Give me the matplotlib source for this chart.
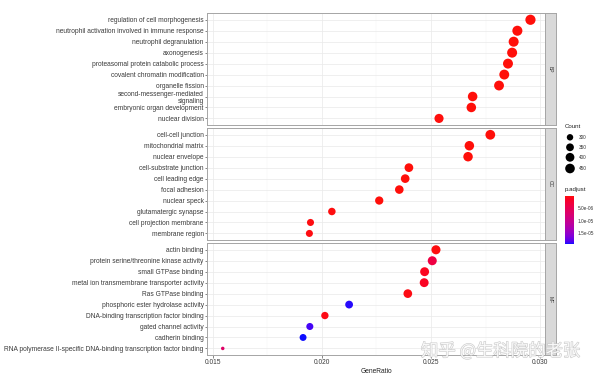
import numpy as np
import matplotlib
matplotlib.use("Agg")
import matplotlib.pyplot as plt
from matplotlib.colors import ListedColormap, Normalize
import matplotlib.patheffects as pe

# ---------------- data ----------------
bp_terms = ["regulation of cell morphogenesis",
            "neutrophil activation involved in immune response",
            "neutrophil degranulation", "axonogenesis",
            "proteasomal protein catabolic process",
            "covalent chromatin modification", "organelle fission",
            "second-messenger-mediated\nsignaling",
            "embryonic organ development", "nuclear division"]
bp_ratio = [0.02956, 0.02896, 0.02879, 0.02872, 0.02853, 0.02836, 0.02812, 0.02691, 0.02685, 0.02537]
bp_count = [488, 478, 475, 474, 471, 468, 464, 444, 443, 419]
bp_padj = [1e-9, 2e-9, 3e-9, 2e-9, 4e-9, 5e-9, 6e-9, 3e-8, 4e-8, 1e-7]

cc_terms = ["cell-cell junction", "mitochondrial matrix", "nuclear envelope",
            "cell-substrate junction", "cell leading edge", "focal adhesion",
            "nuclear speck", "glutamatergic synapse", "cell projection membrane",
            "membrane region"]
cc_ratio = [0.02772, 0.02676, 0.02670, 0.02399, 0.02382, 0.02355, 0.02263, 0.02046, 0.01948, 0.01943]
cc_count = [457, 442, 441, 396, 393, 389, 373, 338, 321, 321]
cc_padj = [1e-9, 2e-9, 3e-9, 1e-8, 2e-8, 3e-8, 5e-8, 2e-7, 3e-7, 3e-7]

mf_terms = ["actin binding", "protein serine/threonine kinase activity",
            "small GTPase binding", "metal ion transmembrane transporter activity",
            "Ras GTPase binding", "phosphoric ester hydrolase activity",
            "DNA-binding transcription factor binding", "gated channel activity",
            "cadherin binding",
            "RNA polymerase II-specific DNA-binding transcription factor binding"]
mf_ratio = [0.02523, 0.02506, 0.02471, 0.02469, 0.02394, 0.02125, 0.02014, 0.01945, 0.01914, 0.01546]
mf_count = [416, 413, 408, 407, 395, 351, 332, 321, 316, 255]
mf_padj = [2e-7, 3.4e-6, 1.0e-6, 1.2e-6, 4e-7, 1.9e-5, 5e-7, 1.85e-5, 1.93e-5, 6.5e-6]

panels = ["BP", "CC", "MF"]
x_ticks = [0.015, 0.020, 0.025, 0.030]
count_breaks = [300, 350, 400, 450]
padj_breaks = [5e-6, 1e-5, 1.5e-5]

# ---------------- colour scale (Lab interpolation red -> blue) ----------------
def _lin(c):
    c = np.asarray(c, float)
    return np.where(c <= 0.04045, c / 12.92, ((c + 0.055) / 1.055) ** 2.4)

def _delin(c):
    c = np.asarray(c, float)
    return np.where(c <= 0.0031308, 12.92 * c, 1.055 * np.power(np.clip(c, 0, None), 1 / 2.4) - 0.055)

M = np.array([[0.4124, 0.3576, 0.1805], [0.2126, 0.7152, 0.0722], [0.0193, 0.1192, 0.9505]])
WP = np.array([0.95047, 1.0, 1.08883])

def rgb2lab(rgb):
    xyz = M @ _lin(rgb) / WP
    f = np.where(xyz > 216 / 24389, np.cbrt(xyz), (24389 / 27 * xyz + 16) / 116)
    return np.array([116 * f[1] - 16, 500 * (f[0] - f[1]), 200 * (f[1] - f[2])])

def lab2rgb(lab):
    L, a, b = lab
    fy = (L + 16) / 116
    fx = fy + a / 500
    fz = fy - b / 200
    f = np.array([fx, fy, fz])
    xyz = np.where(f ** 3 > 216 / 24389, f ** 3, (116 * f - 16) / (24389 / 27)) * WP
    rgb = _delin(np.linalg.solve(M, xyz))
    return np.clip(rgb, 0, 1)

lo, hi = rgb2lab([1, 0.06, 0.04]), rgb2lab([0.05, 0.05, 1])
cmap = ListedColormap([lab2rgb(lo + (hi - lo) * t) for t in np.linspace(0, 1, 256)])
all_p = bp_padj + cc_padj + mf_padj
norm = Normalize(vmin=min(all_p), vmax=max(all_p))

all_c = bp_count + cc_count + mf_count
cmin, cmax = min(all_c), max(all_c)

def msize(c):
    c = np.asarray(c, float)
    d = 3.5 + 6.7 * np.sqrt((c - cmin) / (cmax - cmin))
    return (d * 0.72) ** 2

# ---------------- figure ----------------
plt.rcParams['font.family'] = ['Liberation Sans', 'DejaVu Sans']
W, H = 600, 375
fig = plt.figure(figsize=(6, 3.75), dpi=100)

left, right = 207.3, 545.3
ph = 111.8
bottoms = [250.0, 135.0, 20.0]
txtc = '#3a3a3a'
fs = 4.8

data = [(bp_terms, bp_ratio, bp_count, bp_padj),
        (cc_terms, cc_ratio, cc_count, cc_padj),
        (mf_terms, mf_ratio, mf_count, mf_padj)]

for i, (name, (terms, ratio, count, padj)) in enumerate(zip(panels, data)):
    ax = fig.add_axes([left / W, bottoms[i] / H, (right - left) / W, ph / H])
    n = len(terms)
    ypos = np.arange(n)[::-1]
    ax.set_xlim(0.014752, 0.03024)
    ax.set_ylim(-0.6, n - 1 + 0.6)
    ax.set_xticks(x_ticks)
    ax.set_xticks([0.0175, 0.0225, 0.0275], minor=True)
    ax.set_yticks(ypos)
    ax.set_yticklabels(terms, fontsize=fs, color=txtc, linespacing=1.05)
    ax.grid(True, which='major', color='#ebebeb', lw=0.55)
    ax.grid(True, which='minor', axis='x', color='#f3f3f3', lw=0.35)
    ax.set_axisbelow(True)
    ax.scatter(ratio, ypos, s=msize(count), c=padj, cmap=cmap, norm=norm,
               linewidths=0, zorder=3)
    for sp in ax.spines.values():
        sp.set_color('#a5a5a5')
        sp.set_linewidth(0.7)
    ax.tick_params(axis='both', which='major', length=1.8, width=0.5,
                   color='#555555', pad=0.8)
    ax.tick_params(axis='x', which='minor', length=0)
    if i < 2:
        ax.tick_params(axis='x', which='major', length=0, labelbottom=False)
    else:
        ax.set_xticklabels([f"{t:.3f}" for t in x_ticks], fontsize=fs, color=txtc)
        ax.set_xlabel("GeneRatio", fontsize=fs, color='#222222', labelpad=2)
    # strip
    sax = fig.add_axes([right / W, bottoms[i] / H, 10.4 / W, ph / H])
    sax.set_facecolor('#d9d9d9')
    sax.set_xticks([]); sax.set_yticks([])
    for sp in sax.spines.values():
        sp.set_color('#a5a5a5')
        sp.set_linewidth(0.7)
    sax.text(0.5, 0.5, name, rotation=270, ha='center', va='center',
             fontsize=3.6, color='#333333', transform=sax.transAxes)

# ---------------- legends ----------------
lax = fig.add_axes([0, 0, 1, 1], zorder=-1)
lax.set_xlim(0, W); lax.set_ylim(H, 0); lax.axis('off')
lax.text(565, 126.5, "Count", fontsize=4.4, color='#222222', ha='left', va='center')
leg_y = [137.3, 147.3, 157.3, 168.5]
lax.scatter([570] * len(count_breaks), leg_y, s=msize(count_breaks), c='black', linewidths=0)
for yy, b in zip(leg_y, count_breaks):
    lax.text(579, yy, str(b), fontsize=3.4, color='#333333', ha='left', va='center')
lax.text(565, 190, "p.adjust", fontsize=4.4, color='#222222', ha='left', va='center')

cax = fig.add_axes([565 / W, (H - 244) / H, 9 / W, 48 / H])
grad = np.linspace(norm.vmin, norm.vmax, 256).reshape(-1, 1)
cax.imshow(grad, aspect='auto', cmap=cmap, norm=norm,
           extent=[0, 1, norm.vmax, norm.vmin], origin='upper')
cax.set_xlim(0, 1); cax.set_ylim(norm.vmax, norm.vmin)
cax.set_xticks([])
cax.yaxis.tick_right()
cax.set_yticks(padj_breaks)
cax.set_yticklabels([f"{b:.1e}" for b in padj_breaks], fontsize=3.4, color='#333333')
cax.tick_params(axis='y', length=0, pad=2.5)
for sp in cax.spines.values():
    sp.set_visible(False)

# watermark
fig.text(421 / W, (H - 351) / H, "知乎 @生科院的老张", fontsize=12.5,
         family=['Noto Sans CJK SC', 'DejaVu Sans'], color='white', alpha=0.85,
         ha='left', va='center',
         path_effects=[pe.withStroke(linewidth=0.8, foreground='#c0c0c0')])

fig.savefig("out.png", dpi=100)
